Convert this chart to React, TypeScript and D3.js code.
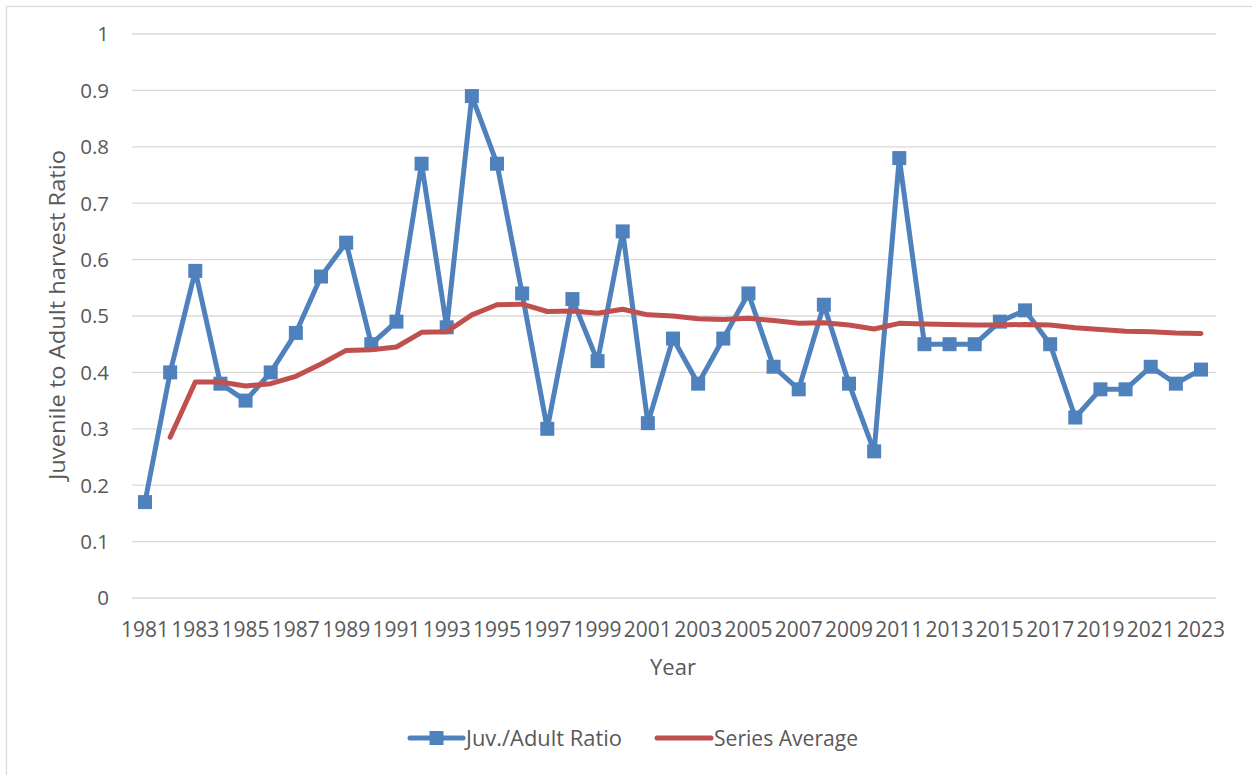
import React from "react";
import * as d3 from "d3";

const years: number[] = [
  1981, 1982, 1983, 1984, 1985, 1986, 1987, 1988, 1989, 1990, 1991, 1992, 1993, 1994, 1995,
  1996, 1997, 1998, 1999, 2000, 2001, 2002, 2003, 2004, 2005, 2006, 2007, 2008, 2009, 2010,
  2011, 2012, 2013, 2014, 2015, 2016, 2017, 2018, 2019, 2020, 2021, 2022, 2023,
];

const ratio: number[] = [
  0.17, 0.4, 0.58, 0.38, 0.35, 0.4, 0.47, 0.57, 0.63, 0.45, 0.49, 0.77, 0.48, 0.89, 0.77,
  0.54, 0.3, 0.53, 0.42, 0.65, 0.31, 0.46, 0.38, 0.46, 0.54, 0.41, 0.37, 0.52, 0.38, 0.26,
  0.78, 0.45, 0.45, 0.45, 0.49, 0.51, 0.45, 0.32, 0.37, 0.37, 0.41, 0.38, 0.405,
];

// Series average (null for the first year, where none is drawn)
const seriesAverage: (number | null)[] = [
  null, 0.285, 0.383, 0.383, 0.376, 0.38, 0.393, 0.415, 0.439, 0.44, 0.445, 0.471, 0.472,
  0.502, 0.52, 0.521, 0.508, 0.509, 0.505, 0.512, 0.502, 0.5, 0.495, 0.494, 0.496, 0.492,
  0.487, 0.488, 0.484, 0.477, 0.487, 0.486, 0.485, 0.484, 0.484, 0.485, 0.484, 0.479, 0.476,
  0.473, 0.472, 0.47, 0.469,
];

const yTicks: number[] = [0, 0.1, 0.2, 0.3, 0.4, 0.5, 0.6, 0.7, 0.8, 0.9, 1];
const xTickYears: number[] = years.filter((y) => (y - 1981) % 2 === 0);

const seriesNames = ["Juv./Adult Ratio", "Series Average"];
const xTitle = "Year";
const yTitle = "Juvenile to Adult harvest Ratio";

const W = 1252;
const H = 775;
const FONT = "'Open Sans', 'Liberation Sans', sans-serif";
const BLUE = "#4f81bd";
const RED = "#c0504d";
const TEXT = "#595959";
const GRID = "#d9d9d9";

export default function App() {
  const x = d3.scaleLinear().domain([1981, 2023]).range([145, 1201]);
  const y = d3.scaleLinear().domain([0, 1]).range([598, 34]);

  const ratioLine = d3
    .line<number>()
    .x((_, i) => x(years[i]))
    .y((d) => y(d));

  const avgLine = d3
    .line<number | null>()
    .defined((d) => d !== null)
    .x((_, i) => x(years[i]))
    .y((d) => y(d as number));

  const ms = 14;

  return (
    <svg
      width={W}
      height={H}
      style={{ position: "absolute", left: 0, top: 0, background: "#fff" }}
    >
      <rect x={0} y={0} width={W} height={H} fill="#fff" />
      <rect x={6.5} y={6.5} width={W + 20} height={H + 20} fill="none" stroke={GRID} strokeWidth={1.2} />

      {/* gridlines */}
      {yTicks.map((t) => (
        <line key={t} x1={132} x2={1216} y1={y(t)} y2={y(t)} stroke={GRID} strokeWidth={1.3} />
      ))}

      {/* y tick labels */}
      {yTicks.map((t) => (
        <text
          key={"yl" + t}
          x={109}
          y={y(t)}
          dy="0.36em"
          textAnchor="end"
          fontFamily={FONT}
          fontSize={20.5}
          fill={TEXT}
        >
          {d3.format("")(+t.toFixed(1))}
        </text>
      ))}

      {/* x tick labels */}
      {xTickYears.map((yr) => (
        <text
          key={"xl" + yr}
          x={x(yr)}
          y={637}
          textAnchor="middle"
          fontFamily={FONT}
          fontSize={21}
          fill={TEXT}
          textLength={48}
          lengthAdjust="spacingAndGlyphs"
        >
          {yr}
        </text>
      ))}

      {/* axis titles */}
      <text x={673} y={675} textAnchor="middle" fontFamily={FONT} fontSize={22} fill={TEXT}>
        {xTitle}
      </text>
      <text
        transform={`translate(65, ${315}) rotate(-90)`}
        textAnchor="middle"
        fontFamily={FONT}
        fontSize={21}
        fill={TEXT}
        textLength={330}
        lengthAdjust="spacingAndGlyphs"
      >
        {yTitle}
      </text>

      {/* series */}
      <path d={ratioLine(ratio) || ""} fill="none" stroke={BLUE} strokeWidth={5} strokeLinejoin="round" />
      {ratio.map((v, i) => (
        <rect
          key={"m" + i}
          x={x(years[i]) - ms / 2}
          y={y(v) - ms / 2}
          width={ms}
          height={ms}
          fill={BLUE}
        />
      ))}
      <path
        d={avgLine(seriesAverage) || ""}
        fill="none"
        stroke={RED}
        strokeWidth={5}
        strokeLinejoin="round"
        strokeLinecap="round"
      />

      {/* legend */}
      <line x1={410} x2={463} y1={738} y2={738} stroke={BLUE} strokeWidth={5} strokeLinecap="round" />
      <rect x={436.5 - 7} y={738 - 7} width={14} height={14} fill={BLUE} />
      <text x={466} y={738} dy="0.36em" fontFamily={FONT} fontSize={21} fill={TEXT} textLength={156} lengthAdjust="spacingAndGlyphs">
        {seriesNames[0]}
      </text>
      <line x1={657} x2={711} y1={738} y2={738} stroke={RED} strokeWidth={5} strokeLinecap="round" />
      <text x={714} y={738} dy="0.36em" fontFamily={FONT} fontSize={21} fill={TEXT} textLength={144} lengthAdjust="spacingAndGlyphs">
        {seriesNames[1]}
      </text>
    </svg>
  );
}
